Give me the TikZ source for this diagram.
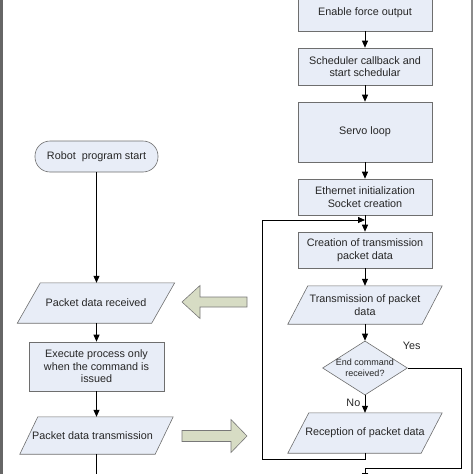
\documentclass[tikz,border=0pt]{standalone}
\usepackage{fontspec}
\setmainfont{Liberation Sans}
\usepackage{xcolor}
\usetikzlibrary{arrows.meta}
\usetikzlibrary{shapes.geometric}
\usetikzlibrary{backgrounds}

\definecolor{boxfill}{RGB}{232,237,247}
\definecolor{boxline}{RGB}{110,110,110}
\definecolor{bigfill}{RGB}{215,220,196}
\definecolor{bigline}{RGB}{120,120,120}

\begin{document}
\begin{tikzpicture}[
    x=1pt, y=-1pt,
    every node/.style={font=\fontsize{10.8}{12.5}\selectfont, text=black!85},
    proc/.style={rectangle, draw=boxline, fill=boxfill, line width=0.6pt, minimum width=134pt, align=center, inner sep=1pt},
    term/.style={proc, rounded corners=15pt, minimum width=123pt, minimum height=31pt},
    io/.style={rectangle, align=center, inner sep=1pt},
    iobox/.style={draw=boxline, fill=boxfill, line width=0.6pt},
    decide/.style={diamond, aspect=1.57, draw=boxline, fill=boxfill, line width=0.6pt, align=center, inner sep=0pt,
        font=\fontsize{9}{10.5}\selectfont},
    flow/.style={draw=black, line width=0.8pt},
    arrow/.style={flow, -{Triangle[length=7pt,width=6pt]}},
    bigarrow/.style={draw=bigline, fill=bigfill, line width=0.6pt}
]
\useasboundingbox (0,0) rectangle (474,474);
\clip (0,0) rectangle (474,474);

% frame
\draw[black!60, line width=3pt] (1.5,0) -- (1.5,474);
\draw[black!45, line width=1.2pt] (472,0) -- (472,474);

% right column
\node[proc, minimum height=37pt] (force) at (365,12.5) {Enable force output};
\node[proc, minimum height=37pt] (sched) at (365,66.5) {Scheduler callback and\\start schedular};
\node[proc, minimum height=60pt] (servo) at (365,132) {Servo loop};
\node[proc, minimum height=36pt] (eth) at (365,197) {Ethernet initialization\\Socket creation};
\node[proc, minimum height=36pt] (creat) at (365,250) {Creation of transmission\\packet data};
\node[io, minimum width=154pt, minimum height=38pt] (trans) at (365,305) {Transmission of packet\\data};
\node[decide] (dec) at (365,368) {End command\\received?};
\node[io, minimum width=154pt, minimum height=40pt] (recep) at (365,433) {Reception of packet data};

\coordinate (merge) at (365,220);
\coordinate (loopL) at (262,459);
\coordinate (yesR) at (461,468);
\coordinate (yesB) at (365,468);
\coordinate (exitR) at (365,480);

% left column
\node[term] (start) at (96.5,156.5) {Robot\ \ program start};
\node[io, minimum width=157pt, minimum height=40pt] (recv) at (96,303) {Packet data received};
\node[proc, minimum width=135pt, minimum height=49pt] (exec) at (96.5,366.5) {Execute process only\\when the command is\\issued};
\node[io, minimum width=153pt, minimum height=37pt] (ptrans) at (96.5,435.5) {\hspace*{-8pt}Packet data transmission};
\coordinate (exitL) at (96.5,480);

% parallelograms behind the io texts
\begin{scope}[on background layer]
\foreach \n/\s in {trans/20, recep/21, recv/23, ptrans/18}
  \draw[iobox] ([xshift=\s pt]\n.north west) -- (\n.north east) -- ([xshift=-\s pt]\n.south east) -- (\n.south west) -- cycle;
\end{scope}

% connectors
\draw[arrow] (force) -- (sched);
\draw[arrow] (sched) -- (servo);
\draw[arrow] (servo) -- (eth);
\draw[arrow] (eth) -- (creat);
\draw[arrow] (creat) -- (trans);
\draw[arrow] (trans) -- (dec);
\draw[arrow] (dec) -- node[left, pos=0.45, xshift=-1pt] {No} (recep);
\draw[arrow] (recep.south) |- (loopL) |- (merge);
\draw[flow] (dec.east) -| (yesR) -- (yesB);
\draw[arrow] (yesB) -- (exitR);
\node (yes) at ([xshift=4pt,yshift=22pt]dec.east) {Yes};

\draw[arrow] (start) -- (start |- recv.north);
\draw[arrow] (start |- recv.south) -- (exec);
\draw[arrow] (exec) -- (ptrans);
\draw[flow] (ptrans) -- (exitL);

% block arrows
\draw[bigarrow] (247,297) -- (200,297) -- (200,285.5) -- (182,302) -- (200,318.5) -- (200,307) -- (247,307) -- cycle;
\draw[bigarrow] (182,430.5) -- (231,430.5) -- (231,419.5) -- (247,436) -- (231,452.5) -- (231,441.5) -- (182,441.5) -- cycle;

\end{tikzpicture}
\end{document}
